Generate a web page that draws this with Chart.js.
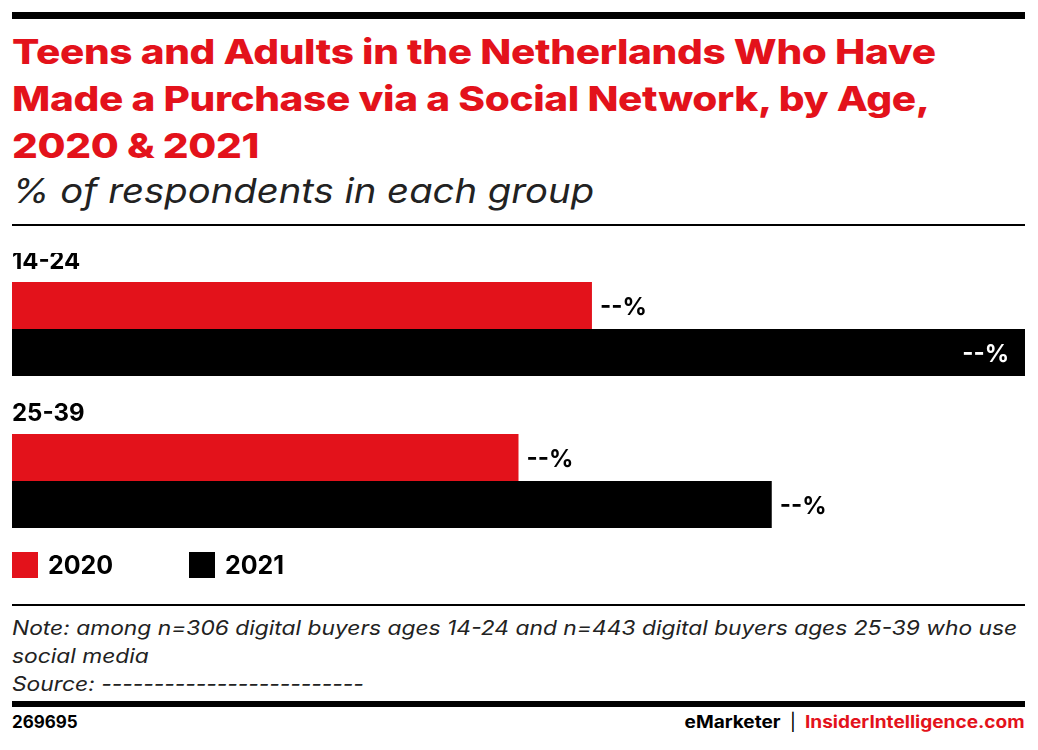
<!DOCTYPE html>
<html><head><meta charset="utf-8">
<script src="https://cdn.jsdelivr.net/npm/chart.js@4"></script>
<style>
body{margin:0;width:1038px;height:750px;background:#fff;font-family:Inter,"Open Sans",sans-serif;position:relative;overflow:hidden}
.abs{position:absolute}
.rule{position:absolute;left:12px;width:1013px;background:#000}
#title{left:12px;top:28px;color:#e3121b;font-weight:800;font-size:34.5px;line-height:47px;letter-spacing:-0.3px;transform:scaleX(1.175);transform-origin:left top;white-space:nowrap}
#sub{left:12px;top:170px;font-style:italic;font-size:34px;color:#222;transform:scaleX(1.125);transform-origin:left top;white-space:nowrap}
.leg{top:550px;font-weight:700;font-size:25px;display:flex;align-items:center}
.sw{width:26px;height:26px;margin-right:10px}
#note{left:12px;top:614px;font-style:italic;font-size:20px;line-height:28px;color:#222;transform:scaleX(1.14);transform-origin:left top;white-space:nowrap}
.foot{top:712px;font-weight:700;font-size:17px;white-space:nowrap}
</style></head><body>
<div class="rule" style="top:12px;height:7px"></div>
<div id="title" class="abs">Teens and Adults in the Netherlands Who Have<br>Made a Purchase via a Social Network, by Age,<br>2020 &amp; 2021</div>
<div id="sub" class="abs">% of respondents in each group</div>
<div class="rule" style="top:224px;height:2px"></div>
<div class="abs" style="left:0;top:253px;width:1038px;height:304px"><canvas id="c"></canvas></div>
<div class="abs leg" style="left:12px"><div class="sw" style="background:#e3121b"></div>2020</div>
<div class="abs leg" style="left:189px"><div class="sw" style="background:#000"></div>2021</div>
<div class="rule" style="top:604px;height:2px"></div>
<div id="note" class="abs">Note: among n=306 digital buyers ages 14-24 and n=443 digital buyers ages 25-39 who use<br>social media<br>Source: -------------------------</div>
<div class="rule" style="top:701px;height:6px"></div>
<div class="abs foot" style="left:12px">269695</div>
<div class="abs foot" style="right:13px;transform:scaleX(1.12);transform-origin:right top"><span>eMarketer</span>&nbsp;&nbsp;<span style="font-weight:400">|</span>&nbsp;&nbsp;<span style="color:#e3121b">InsiderIntelligence.com</span></div>
<script>
const categories=["14-24","25-39"];
const series2020=[22.9,20.0];
const series2021=[40.0,30.0];
const valueLabel="--%";
const lbl={id:'lbl',afterDatasetsDraw(ch){const c=ch.ctx;c.save();c.font='700 24px Inter, sans-serif';c.textBaseline='middle';
 ch.data.datasets.forEach((ds,di)=>{ch.getDatasetMeta(di).data.forEach((b,i)=>{
  if(b.x>ch.chartArea.right-60){c.fillStyle='#fff';c.textAlign='right';c.fillText(valueLabel,b.x-16,b.y+2);}
  else{c.fillStyle='#000';c.textAlign='left';c.fillText(valueLabel,b.x+8,b.y+2);}
  if(di===0){c.fillStyle='#000';c.textAlign='left';c.fillText(categories[i],12,b.y-b.height/2-20);}
 });});c.restore();}};
new Chart(document.getElementById('c'),{type:'bar',
 data:{labels:categories,datasets:[
  {label:'2020',data:series2020,backgroundColor:'#e3121b',categoryPercentage:0.618,barPercentage:1},
  {label:'2021',data:series2021,backgroundColor:'#000',categoryPercentage:0.618,barPercentage:1}]},
 options:{indexAxis:'y',responsive:true,maintainAspectRatio:false,animation:false,
  layout:{padding:{left:12,right:13,top:0,bottom:0}},
  scales:{x:{display:false,min:0,max:40},y:{display:false}},
  plugins:{legend:{display:false},tooltip:{enabled:false}}},
 plugins:[lbl]});
</script>
</body></html>
